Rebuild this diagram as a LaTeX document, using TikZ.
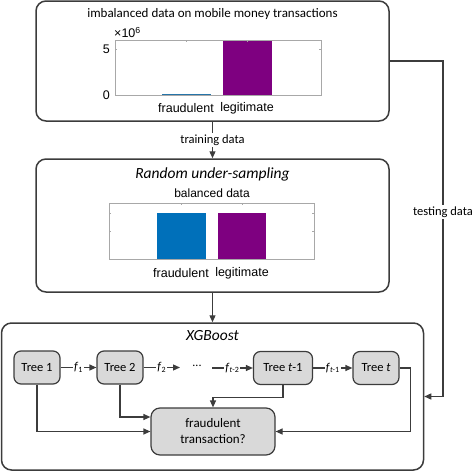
\documentclass[tikz,border=0pt]{standalone}
\usepackage{fontspec}
\setmainfont{Carlito}
\newfontfamily\plotfont{Liberation Sans}
\usetikzlibrary{arrows.meta}
\definecolor{mblue}{HTML}{0070BA}
\definecolor{mpurple}{HTML}{7E0080}
\definecolor{linegray}{HTML}{3C3C3C}
\definecolor{treefill}{HTML}{D9D9D9}
\definecolor{axisgray}{HTML}{A8A8A8}
\begin{document}
\begin{tikzpicture}[x=1pt,y=-1pt,
  panel/.style={draw=linegray, line width=1.5pt, rounded corners=10pt, inner sep=0pt},
  treebox/.style={draw=linegray, line width=1.2pt, fill=treefill, rounded corners=7pt,
    minimum height=33pt, inner sep=0pt, font=\fontsize{12.5}{14}\selectfont},
  fraudbox/.style={treebox, minimum width=124pt, minimum height=47pt, align=center,
    rounded corners=9pt, font=\fontsize{13}{16}\selectfont},
  conn/.style={draw=linegray, line width=1.2pt},
  arr/.style={conn, -{Triangle[length=7pt,width=6pt]}},
  lbl/.style={fill=white, inner sep=1.2pt, font=\fontsize{12.5}{14}\selectfont},
  flbl/.style={fill=white, inner sep=1pt, font=\fontsize{12}{14}\selectfont},
  boxtitle/.style={font=\fontsize{15.5}{18}\selectfont\itshape},
  plottxt/.style={font=\plotfont\fontsize{12.5}{14}\selectfont},
  axisline/.style={draw=axisgray, line width=0.9pt},
  tick/.style={draw=axisgray, line width=0.6pt}]
\useasboundingbox (0,0) rectangle (474,471);

% panels
\node[panel, minimum width=353pt, minimum height=120pt] (p1) at (212.5,61) {};
\node[panel, minimum width=353pt, minimum height=133pt] (p2) at (212.5,225.5) {};
\node[panel, minimum width=422pt, minimum height=147pt] (p3) at (212.5,396.5) {};

% panel 1 content
\node[font=\fontsize{13}{15}\selectfont] (t1title) at (212.5,14) {imbalanced data on mobile money transactions};
\fill[mpurple] (223,40) rectangle (272,95);
\fill[mblue!70!gray] (162,93.6) rectangle (211,95);
\draw[axisline] (115,40) rectangle (321,95);
\draw[tick] (186,40) -- ++(0,2) (247,40) -- ++(0,2) (115,49) -- ++(2,0) (321,49) -- ++(-2,0);
\node[plottxt, anchor=south west, inner sep=0pt] (exp) at (114,38) {×10\textsuperscript{6}};
\node[plottxt, anchor=east, inner sep=1pt] (y5) at (111,49) {5};
\node[plottxt, anchor=east, inner sep=1pt] (y0) at (111,95) {0};
\node[plottxt] (xa1) at (186,108) {fraudulent};
\node[plottxt] (xb1) at (247,108) {legitimate};

% panel 2 content
\node[boxtitle] (t2title) at (212.5,174) {Random under-sampling};
\node[plottxt, font=\plotfont\fontsize{12}{14}\selectfont] (bal) at (212,193) {balanced data};
\fill[mblue] (157,213) rectangle (206,259);
\fill[mpurple] (218,213) rectangle (266,259);
\draw[axisline] (109,203) rectangle (314,259);
\draw[tick] (181,203) -- ++(0,2) (242,203) -- ++(0,2)
  (109,213) -- ++(2,0) (109,231) -- ++(2,0) (314,213) -- ++(-2,0) (314,231) -- ++(-2,0);
\node[plottxt] (xa2) at (181,273) {fraudulent};
\node[plottxt] (xb2) at (242,273) {legitimate};

% panel 3 content
\node[boxtitle] (t3title) at (212.5,336) {XGBoost};
\node[treebox, minimum width=46pt] (tr1) at (37,367.5) {Tree 1};
\node[treebox, minimum width=46pt] (tr2) at (120,367.5) {Tree 2};
\node[treebox, minimum width=59pt] (trt1) at (283,368) {Tree \textit{t}-1};
\node[treebox, minimum width=46pt] (trt) at (376,368) {Tree \textit{t}};
\node[font=\fontsize{12}{14}\selectfont] (dots) at (197,366) {...};
\coordinate (dl) at (180,367.5);
\coordinate (dr) at (212,368);
\node[fraudbox] (fr) at (213,431.5) {fraudulent\\transaction?};

\draw[arr] (tr1) -- (tr2) node[flbl, midway] (f1) {\textit{f}\textsubscript{1}};
\draw[arr] (tr2) -- (dl) node[flbl, midway] (f2) {\textit{f}\textsubscript{2}};
\draw[arr] (dr) -- (trt1) node[flbl, midway] (f3) {\textit{f}\textsubscript{\textit{t}-2}};
\draw[arr] (trt1) -- (trt) node[flbl, midway] (f4) {\textit{f}\textsubscript{\textit{t}-1}};

\draw[arr] (tr1.south) |- (fr.west);
\draw[arr] (tr2.south) |- ([yshift=14.5pt]fr.west);
\draw[arr] (trt1.south) -- ++(0,12) -| (fr.north);
\draw[arr] (trt.east) -- ++(11,0) |- (fr.east);

% between panels
\draw[arr] (p1.south) -- (p2.north) node[lbl, midway] (train) {training data};
\draw[arr] (p2.south) -- (p3.north);
\coordinate (tx) at (443,230);
\draw[arr] (p1.east) -| (tx) |- (p3.east);
\node[lbl] (test) at (443,212) {testing data};
\end{tikzpicture}
\end{document}
